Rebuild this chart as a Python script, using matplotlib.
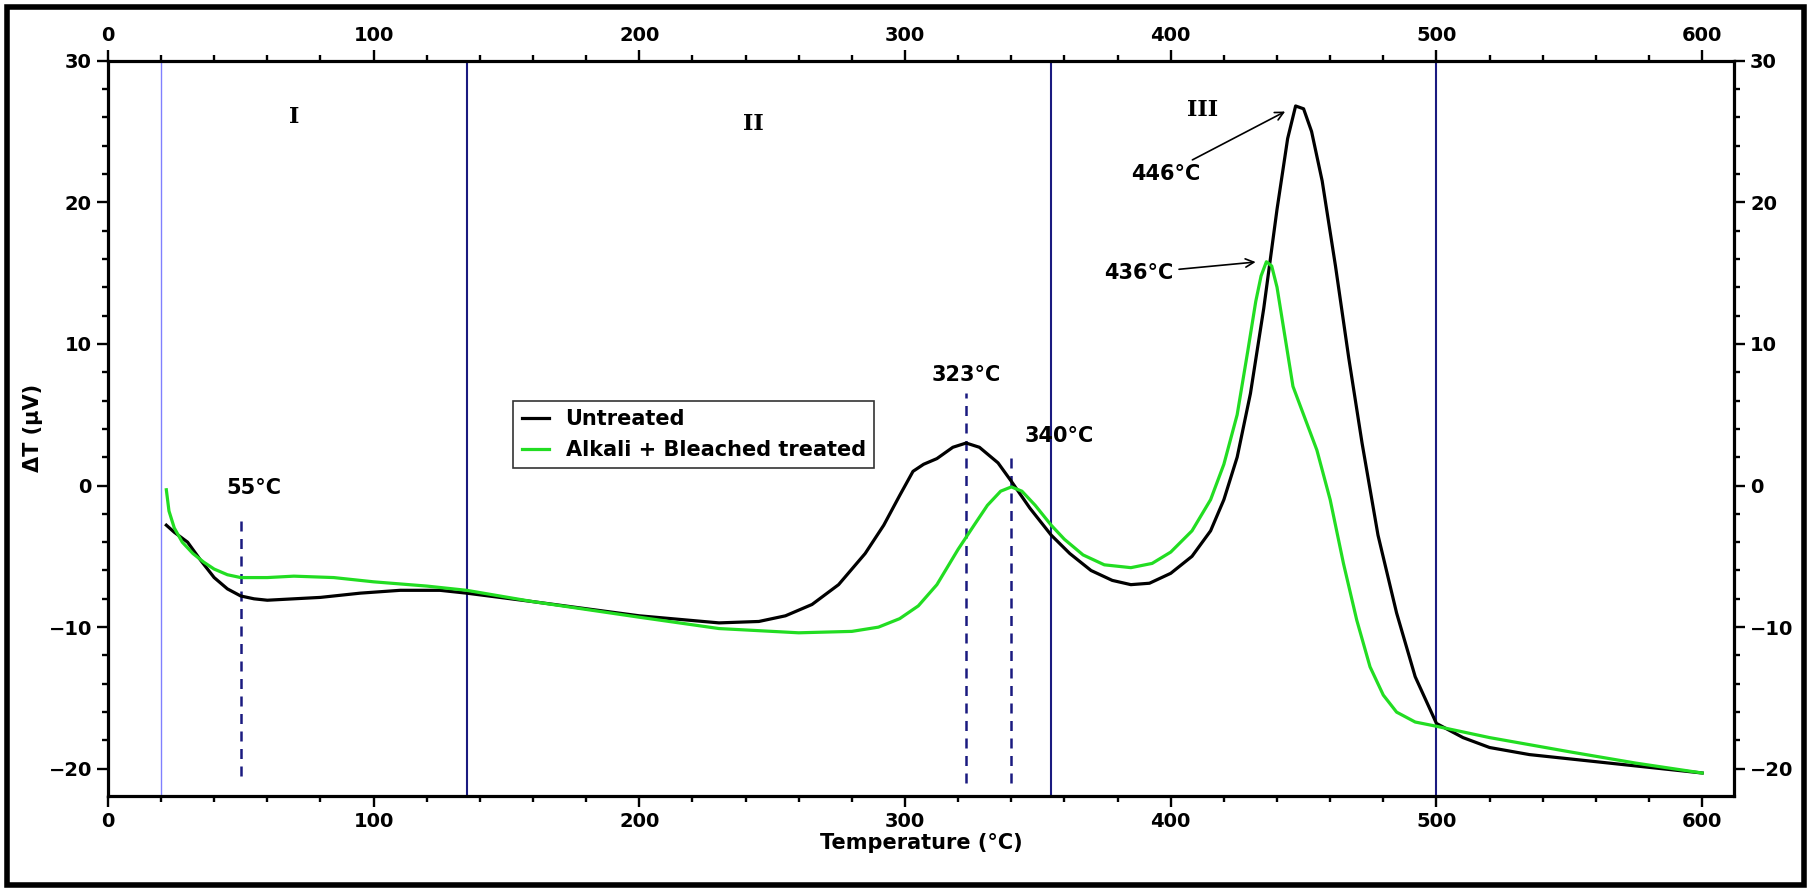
import matplotlib
matplotlib.use("Agg")
import matplotlib.pyplot as plt
from matplotlib.patches import Rectangle
from matplotlib.ticker import MultipleLocator

unt_T = [22,25,30,35,40,45,50,55,60,70,80,95,110,125,135,160,200,230,245,255,265,275,285,292,298,303,307,312,318,323,328,335,340,347,355,362,370,378,385,392,400,408,415,420,425,430,435,440,444,447,450,453,457,462,467,472,478,485,492,500,510,520,535,550,575,600]
unt_V = [-2.8,-3.3,-4.0,-5.3,-6.5,-7.3,-7.8,-8.0,-8.1,-8.0,-7.9,-7.6,-7.4,-7.4,-7.6,-8.2,-9.2,-9.7,-9.6,-9.2,-8.4,-7.0,-4.8,-2.8,-0.7,1.0,1.5,1.9,2.7,3.0,2.7,1.6,0.3,-1.6,-3.5,-4.8,-6.0,-6.7,-7.0,-6.9,-6.2,-5.0,-3.2,-1.0,2.0,6.5,12.5,19.5,24.5,26.8,26.6,25.0,21.5,15.5,9.0,3.0,-3.5,-9.0,-13.5,-16.8,-17.8,-18.5,-19.0,-19.3,-19.8,-20.3]
gr_T = [22,23,25,28,32,36,40,45,50,60,70,85,100,120,135,160,200,230,260,280,290,298,305,312,320,326,331,336,340,344,349,355,360,367,375,385,393,400,408,415,420,425,429,432,434,436,438,440,443,446,450,455,460,465,470,475,480,485,492,500,520,550,575,600]
gr_V = [-0.3,-1.8,-3.0,-4.0,-4.8,-5.4,-5.9,-6.3,-6.5,-6.5,-6.4,-6.5,-6.8,-7.1,-7.4,-8.2,-9.3,-10.1,-10.4,-10.3,-10.0,-9.4,-8.5,-7.0,-4.5,-2.8,-1.4,-0.4,-0.1,-0.4,-1.4,-2.8,-3.8,-4.9,-5.6,-5.8,-5.5,-4.7,-3.2,-1.0,1.5,5.0,9.5,13.0,14.8,15.8,15.5,14.0,10.5,7.0,5.0,2.5,-1.0,-5.5,-9.5,-12.8,-14.8,-16.0,-16.7,-17.0,-17.8,-18.8,-19.6,-20.3]
region_lines = [135, 355, 500]
peak_marks = [(50, -20.5, -2.5), (323, -21, 6.5), (340, -21, 2.0)]

fig = plt.figure(figsize=(18.19, 8.92), dpi=100)
fig.patches.append(Rectangle((0.004, 0.008), 0.988, 0.984, transform=fig.transFigure,
                             fill=False, lw=4, ec="black"))
ax = fig.add_axes([0.0593, 0.108, 0.894, 0.824])
ax.set_xlim(0, 612)
ax.set_ylim(-21.9, 30)

ax.axvline(20, color="#8080ff", lw=1)
for x in region_lines:
    ax.axvline(x, color="#1a1a80", lw=1.5)
for x, y0, y1 in peak_marks:
    ax.plot([x, x], [y0, y1], ls=(0, (4, 3)), color="#1a1a80", lw=1.8)

ax.plot(unt_T, unt_V, color="black", lw=2.3, label="Untreated")
ax.plot(gr_T, gr_V, color="#22dd22", lw=2.3, label="Alkali + Bleached treated")

bf = dict(fontweight="bold", fontsize=15)
sf = dict(fontweight="bold", fontsize=16, family="DejaVu Serif")
ax.text(70, 26, "I", ha="center", va="center", **sf)
ax.text(243, 25.5, "II", ha="center", va="center", **sf)
ax.text(412, 26.5, "III", ha="center", va="center", **sf)
ax.text(55, -0.2, "55°C", ha="center", va="center", **bf)
ax.text(323, 7.8, "323°C", ha="center", va="center", **bf)
ax.text(358, 3.5, "340°C", ha="center", va="center", **bf)
ax.annotate("446°C", xy=(444, 26.5), xytext=(398, 22), ha="center", va="center", **bf,
            arrowprops=dict(arrowstyle="->", color="black", lw=1.2))
ax.annotate("436°C", xy=(433, 15.8), xytext=(388, 15), ha="center", va="center", **bf,
            arrowprops=dict(arrowstyle="->", color="black", lw=1.2))

leg = ax.legend(loc="upper left", bbox_to_anchor=(0.243, 0.551), fancybox=False,
                edgecolor="black", prop=dict(weight="bold", size=15), handlelength=1.3)
leg.get_frame().set_linewidth(1.2)

ax.set_xlabel("Temperature (°C)", fontweight="bold", fontsize=15, labelpad=2)
ax.set_ylabel("ΔT (µV)", fontweight="bold", fontsize=15)
ax.xaxis.set_major_locator(MultipleLocator(100))
ax.xaxis.set_minor_locator(MultipleLocator(20))
ax.yaxis.set_major_locator(MultipleLocator(10))
ax.yaxis.set_minor_locator(MultipleLocator(2))
ax.tick_params(which="both", direction="out", top=True, right=True,
               labeltop=True, labelright=True, width=1.7)
ax.tick_params(which="major", length=8, labelsize=14)
ax.tick_params(which="minor", length=4)
for lab in ax.get_xticklabels() + ax.get_yticklabels():
    lab.set_fontweight("bold")
for s in ax.spines.values():
    s.set_linewidth(2.3)
fig.savefig("out.png", dpi=100)
